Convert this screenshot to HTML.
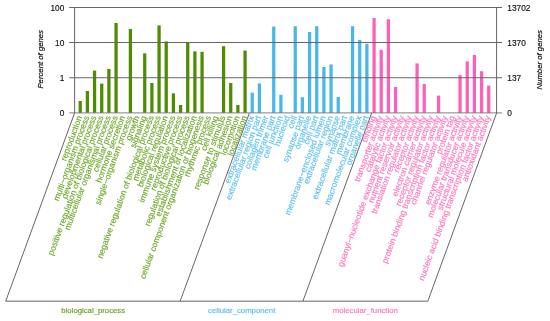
<!DOCTYPE html><html><head><meta charset="utf-8"><title>GO classification</title>
<style>html,body{margin:0;padding:0;background:#fff}svg{display:block}text{font-family:"Liberation Sans",Arial,sans-serif}</style></head><body>
<svg width="550" height="321" viewBox="0 0 550 321">
<rect width="550" height="321" fill="#fff"/>
<defs><filter id="bl" x="-5%" y="-5%" width="110%" height="110%"><feGaussianBlur stdDeviation="0.35"/></filter></defs>
<rect x="78.60" y="101.0" width="3.25" height="12.0" fill="#4E8C00"/>
<rect x="85.77" y="91.0" width="3.25" height="22.0" fill="#4E8C00"/>
<rect x="92.93" y="70.6" width="3.25" height="42.4" fill="#4E8C00"/>
<rect x="100.10" y="83.6" width="3.25" height="29.4" fill="#4E8C00"/>
<rect x="107.27" y="69.0" width="3.25" height="44.0" fill="#4E8C00"/>
<rect x="114.44" y="23.0" width="3.25" height="90.0" fill="#4E8C00"/>
<rect x="128.77" y="29.0" width="3.25" height="84.0" fill="#4E8C00"/>
<rect x="143.10" y="53.4" width="3.25" height="59.6" fill="#4E8C00"/>
<rect x="150.27" y="83.0" width="3.25" height="30.0" fill="#4E8C00"/>
<rect x="157.44" y="25.4" width="3.25" height="87.6" fill="#4E8C00"/>
<rect x="164.60" y="41.4" width="3.25" height="71.6" fill="#4E8C00"/>
<rect x="171.77" y="93.4" width="3.25" height="19.6" fill="#4E8C00"/>
<rect x="178.94" y="105.0" width="3.25" height="8.0" fill="#4E8C00"/>
<rect x="186.10" y="43.0" width="3.25" height="70.0" fill="#4E8C00"/>
<rect x="193.27" y="51.4" width="3.25" height="61.6" fill="#4E8C00"/>
<rect x="200.44" y="51.8" width="3.25" height="61.2" fill="#4E8C00"/>
<rect x="221.94" y="46.2" width="3.25" height="66.8" fill="#4E8C00"/>
<rect x="229.11" y="83.0" width="3.25" height="30.0" fill="#4E8C00"/>
<rect x="236.27" y="105.0" width="3.25" height="8.0" fill="#4E8C00"/>
<rect x="243.44" y="50.6" width="3.25" height="62.4" fill="#4E8C00"/>
<rect x="250.61" y="92.6" width="3.25" height="20.4" fill="#48B8EC"/>
<rect x="257.77" y="83.4" width="3.25" height="29.6" fill="#48B8EC"/>
<rect x="272.11" y="26.6" width="3.25" height="86.4" fill="#48B8EC"/>
<rect x="279.28" y="94.8" width="3.25" height="18.2" fill="#48B8EC"/>
<rect x="293.61" y="26.2" width="3.25" height="86.8" fill="#48B8EC"/>
<rect x="300.78" y="97.2" width="3.25" height="15.8" fill="#48B8EC"/>
<rect x="307.94" y="32.0" width="3.25" height="81.0" fill="#48B8EC"/>
<rect x="315.11" y="26.2" width="3.25" height="86.8" fill="#48B8EC"/>
<rect x="322.28" y="67.0" width="3.25" height="46.0" fill="#48B8EC"/>
<rect x="329.44" y="64.4" width="3.25" height="48.6" fill="#48B8EC"/>
<rect x="336.61" y="97.0" width="3.25" height="16.0" fill="#48B8EC"/>
<rect x="350.95" y="26.2" width="3.25" height="86.8" fill="#48B8EC"/>
<rect x="358.11" y="40.0" width="3.25" height="73.0" fill="#48B8EC"/>
<rect x="365.28" y="43.8" width="3.25" height="69.2" fill="#48B8EC"/>
<rect x="372.45" y="18.0" width="3.25" height="95.0" fill="#FF60B4"/>
<rect x="379.61" y="49.8" width="3.25" height="63.2" fill="#FF60B4"/>
<rect x="386.78" y="19.2" width="3.25" height="93.8" fill="#FF60B4"/>
<rect x="393.95" y="87.0" width="3.25" height="26.0" fill="#FF60B4"/>
<rect x="415.45" y="63.4" width="3.25" height="49.6" fill="#FF60B4"/>
<rect x="422.62" y="84.0" width="3.25" height="29.0" fill="#FF60B4"/>
<rect x="436.95" y="95.6" width="3.25" height="17.4" fill="#FF60B4"/>
<rect x="458.45" y="75.2" width="3.25" height="37.8" fill="#FF60B4"/>
<rect x="465.62" y="61.5" width="3.25" height="51.5" fill="#FF60B4"/>
<rect x="472.78" y="55.0" width="3.25" height="58.0" fill="#FF60B4"/>
<rect x="479.95" y="71.2" width="3.25" height="41.8" fill="#FF60B4"/>
<rect x="487.12" y="85.6" width="3.25" height="27.4" fill="#FF60B4"/>
<g stroke="#666" stroke-width="1" fill="none">
<line x1="69.2" y1="7.5" x2="502" y2="7.5"/>
<line x1="69.2" y1="42.5" x2="502" y2="42.5"/>
<line x1="69.2" y1="77.75" x2="502" y2="77.75"/>
<line x1="69.2" y1="112.9" x2="502" y2="112.9" stroke="#808088"/>
<line x1="74.6" y1="7.5" x2="74.6" y2="113"/>
<line x1="496.6" y1="7.5" x2="496.6" y2="113"/>
<polyline points="74.6,113 5.7,301.2 427.8,301.2 496.6,113"/>
<line x1="249.4" y1="113" x2="180.1" y2="301.2"/>
<line x1="371.7" y1="113" x2="302.9" y2="301.2"/>
</g>
<g font-size="7.75" fill="#111" stroke="#111" stroke-width="0.15">
<text x="64.3" y="10.5" text-anchor="end" font-size="8.3">100</text>
<text x="507.3" y="10.5" font-size="8.3">13702</text>
<text x="64.3" y="45.5" text-anchor="end" font-size="8.3">10</text>
<text x="507.3" y="45.5" font-size="8.3">1370</text>
<text x="64.3" y="80.8" text-anchor="end" font-size="8.3">1</text>
<text x="507.3" y="80.8" font-size="8.3">137</text>
<text x="64.3" y="116.0" text-anchor="end" font-size="8.3">0</text>
<text x="507.3" y="116.0" font-size="8.3">0</text>
<text transform="translate(43.1,59.3) rotate(-90)" text-anchor="middle" font-style="italic" stroke-width="0.2">Percent of genes</text>
<text transform="translate(541.8,59.8) rotate(-90)" text-anchor="middle" font-style="italic" stroke-width="0.2">Number of genes</text>
</g>
<g filter="url(#bl)" stroke-width="0.15">
<text transform="translate(82.20,117.0) rotate(-70)" text-anchor="end" font-size="8.5" fill="#6DA629" stroke="#6DA629">reproduction</text>
<text transform="translate(89.37,117.0) rotate(-70)" text-anchor="end" font-size="8.5" fill="#6DA629" stroke="#6DA629">multi−organism process</text>
<text transform="translate(96.53,117.0) rotate(-70)" text-anchor="end" font-size="8.5" fill="#6DA629" stroke="#6DA629">developmental process</text>
<text transform="translate(103.70,117.0) rotate(-70)" text-anchor="end" font-size="8.5" fill="#6DA629" stroke="#6DA629">positive regulation of biological process</text>
<text transform="translate(110.87,117.0) rotate(-70)" text-anchor="end" font-size="8.5" fill="#6DA629" stroke="#6DA629">multicellular organismal process</text>
<text transform="translate(118.03,117.0) rotate(-70)" text-anchor="end" font-size="8.5" fill="#6DA629" stroke="#6DA629">cellular process</text>
<text transform="translate(125.20,117.0) rotate(-70)" text-anchor="end" font-size="8.5" fill="#6DA629" stroke="#6DA629">hormone secretion</text>
<text transform="translate(132.37,117.0) rotate(-70)" text-anchor="end" font-size="8.5" fill="#6DA629" stroke="#6DA629">single−organism process</text>
<text transform="translate(139.54,117.0) rotate(-70)" text-anchor="end" font-size="8.5" fill="#6DA629" stroke="#6DA629">growth</text>
<text transform="translate(146.70,117.0) rotate(-70)" text-anchor="end" font-size="8.5" fill="#6DA629" stroke="#6DA629">signaling</text>
<text transform="translate(153.87,117.0) rotate(-70)" text-anchor="end" font-size="8.5" fill="#6DA629" stroke="#6DA629">negative regulation of biological process</text>
<text transform="translate(161.04,117.0) rotate(-70)" text-anchor="end" font-size="8.5" fill="#6DA629" stroke="#6DA629">metabolic process</text>
<text transform="translate(168.20,117.0) rotate(-70)" text-anchor="end" font-size="8.5" fill="#6DA629" stroke="#6DA629">biological regulation</text>
<text transform="translate(175.37,117.0) rotate(-70)" text-anchor="end" font-size="8.5" fill="#6DA629" stroke="#6DA629">immune system process</text>
<text transform="translate(182.54,117.0) rotate(-70)" text-anchor="end" font-size="8.5" fill="#6DA629" stroke="#6DA629">reproductive process</text>
<text transform="translate(189.70,117.0) rotate(-70)" text-anchor="end" font-size="8.5" fill="#6DA629" stroke="#6DA629">regulation of biological process</text>
<text transform="translate(196.87,117.0) rotate(-70)" text-anchor="end" font-size="8.5" fill="#6DA629" stroke="#6DA629">establishment of localization</text>
<text transform="translate(204.04,117.0) rotate(-70)" text-anchor="end" font-size="8.5" fill="#6DA629" stroke="#6DA629">cellular component organization or biogenesis</text>
<text transform="translate(211.21,117.0) rotate(-70)" text-anchor="end" font-size="8.5" fill="#6DA629" stroke="#6DA629">rhythmic process</text>
<text transform="translate(218.37,117.0) rotate(-70)" text-anchor="end" font-size="8.5" fill="#6DA629" stroke="#6DA629">cell killing</text>
<text transform="translate(225.54,117.0) rotate(-70)" text-anchor="end" font-size="8.5" fill="#6DA629" stroke="#6DA629">response to stimulus</text>
<text transform="translate(232.71,117.0) rotate(-70)" text-anchor="end" font-size="8.5" fill="#6DA629" stroke="#6DA629">biological adhesion</text>
<text transform="translate(239.87,117.0) rotate(-70)" text-anchor="end" font-size="8.5" fill="#6DA629" stroke="#6DA629">locomotion</text>
<text transform="translate(247.04,117.0) rotate(-70)" text-anchor="end" font-size="8.5" fill="#6DA629" stroke="#6DA629">localization</text>
<text transform="translate(254.21,117.0) rotate(-70)" text-anchor="end" font-size="8.5" fill="#5EC0EE" stroke="#5EC0EE">extracellular matrix</text>
<text transform="translate(261.38,117.0) rotate(-70)" text-anchor="end" font-size="8.5" fill="#5EC0EE" stroke="#5EC0EE">extracellular region part</text>
<text transform="translate(268.54,117.0) rotate(-70)" text-anchor="end" font-size="8.5" fill="#5EC0EE" stroke="#5EC0EE">collagen trimer</text>
<text transform="translate(275.71,117.0) rotate(-70)" text-anchor="end" font-size="8.5" fill="#5EC0EE" stroke="#5EC0EE">membrane part</text>
<text transform="translate(282.88,117.0) rotate(-70)" text-anchor="end" font-size="8.5" fill="#5EC0EE" stroke="#5EC0EE">cell junction</text>
<text transform="translate(290.04,117.0) rotate(-70)" text-anchor="end" font-size="8.5" fill="#5EC0EE" stroke="#5EC0EE">nucleoid</text>
<text transform="translate(297.21,117.0) rotate(-70)" text-anchor="end" font-size="8.5" fill="#5EC0EE" stroke="#5EC0EE">cell</text>
<text transform="translate(304.38,117.0) rotate(-70)" text-anchor="end" font-size="8.5" fill="#5EC0EE" stroke="#5EC0EE">synapse part</text>
<text transform="translate(311.54,117.0) rotate(-70)" text-anchor="end" font-size="8.5" fill="#5EC0EE" stroke="#5EC0EE">organelle</text>
<text transform="translate(318.71,117.0) rotate(-70)" text-anchor="end" font-size="8.5" fill="#5EC0EE" stroke="#5EC0EE">cell part</text>
<text transform="translate(325.88,117.0) rotate(-70)" text-anchor="end" font-size="8.5" fill="#5EC0EE" stroke="#5EC0EE">membrane−enclosed lumen</text>
<text transform="translate(333.05,117.0) rotate(-70)" text-anchor="end" font-size="8.5" fill="#5EC0EE" stroke="#5EC0EE">extracellular region</text>
<text transform="translate(340.21,117.0) rotate(-70)" text-anchor="end" font-size="8.5" fill="#5EC0EE" stroke="#5EC0EE">synapse</text>
<text transform="translate(347.38,117.0) rotate(-70)" text-anchor="end" font-size="8.5" fill="#5EC0EE" stroke="#5EC0EE">extracellular matrix part</text>
<text transform="translate(354.55,117.0) rotate(-70)" text-anchor="end" font-size="8.5" fill="#5EC0EE" stroke="#5EC0EE">membrane</text>
<text transform="translate(361.71,117.0) rotate(-70)" text-anchor="end" font-size="8.5" fill="#5EC0EE" stroke="#5EC0EE">macromolecular complex</text>
<text transform="translate(368.88,117.0) rotate(-70)" text-anchor="end" font-size="8.5" fill="#5EC0EE" stroke="#5EC0EE">organelle part</text>
<text transform="translate(376.05,117.0) rotate(-70)" text-anchor="end" font-size="8.5" fill="#FF74BE" stroke="#FF74BE">binding</text>
<text transform="translate(383.21,117.0) rotate(-70)" text-anchor="end" font-size="8.5" fill="#FF74BE" stroke="#FF74BE">transporter activity</text>
<text transform="translate(390.38,117.0) rotate(-70)" text-anchor="end" font-size="8.5" fill="#FF74BE" stroke="#FF74BE">catalytic activity</text>
<text transform="translate(397.55,117.0) rotate(-70)" text-anchor="end" font-size="8.5" fill="#FF74BE" stroke="#FF74BE">guanyl−nucleotide exchange factor activity</text>
<text transform="translate(404.72,117.0) rotate(-70)" text-anchor="end" font-size="8.5" fill="#FF74BE" stroke="#FF74BE">nutrient reservoir activity</text>
<text transform="translate(411.88,117.0) rotate(-70)" text-anchor="end" font-size="8.5" fill="#FF74BE" stroke="#FF74BE">translation regulator activity</text>
<text transform="translate(419.05,117.0) rotate(-70)" text-anchor="end" font-size="8.5" fill="#FF74BE" stroke="#FF74BE">receptor activity</text>
<text transform="translate(426.22,117.0) rotate(-70)" text-anchor="end" font-size="8.5" fill="#FF74BE" stroke="#FF74BE">electron carrier activity</text>
<text transform="translate(433.38,117.0) rotate(-70)" text-anchor="end" font-size="8.5" fill="#FF74BE" stroke="#FF74BE">receptor regulator activity</text>
<text transform="translate(440.55,117.0) rotate(-70)" text-anchor="end" font-size="8.5" fill="#FF74BE" stroke="#FF74BE">protein binding transcription factor activity</text>
<text transform="translate(447.72,117.0) rotate(-70)" text-anchor="end" font-size="8.5" fill="#FF74BE" stroke="#FF74BE">channel regulator activity</text>
<text transform="translate(454.88,117.0) rotate(-70)" text-anchor="end" font-size="8.5" fill="#FF74BE" stroke="#FF74BE">protein tag</text>
<text transform="translate(462.05,117.0) rotate(-70)" text-anchor="end" font-size="8.5" fill="#FF74BE" stroke="#FF74BE">enzyme regulator activity</text>
<text transform="translate(469.22,117.0) rotate(-70)" text-anchor="end" font-size="8.5" fill="#FF74BE" stroke="#FF74BE">molecular transducer activity</text>
<text transform="translate(476.38,117.0) rotate(-70)" text-anchor="end" font-size="8.5" fill="#FF74BE" stroke="#FF74BE">structural molecule activity</text>
<text transform="translate(483.55,117.0) rotate(-70)" text-anchor="end" font-size="8.5" fill="#FF74BE" stroke="#FF74BE">nucleic acid binding transcription factor activity</text>
<text transform="translate(490.72,117.0) rotate(-70)" text-anchor="end" font-size="8.5" fill="#FF74BE" stroke="#FF74BE">antioxidant activity</text>
<text x="93.2" y="313" text-anchor="middle" font-size="7.75" fill="#64A01C" stroke="#64A01C">biological_process</text>
<text x="241.7" y="313" text-anchor="middle" font-size="7.75" fill="#58BEEE" stroke="#58BEEE">cellular_component</text>
<text x="365.3" y="313" text-anchor="middle" font-size="7.75" fill="#FF70BC" stroke="#FF70BC">molecular_function</text>
</g>
</svg></body></html>
